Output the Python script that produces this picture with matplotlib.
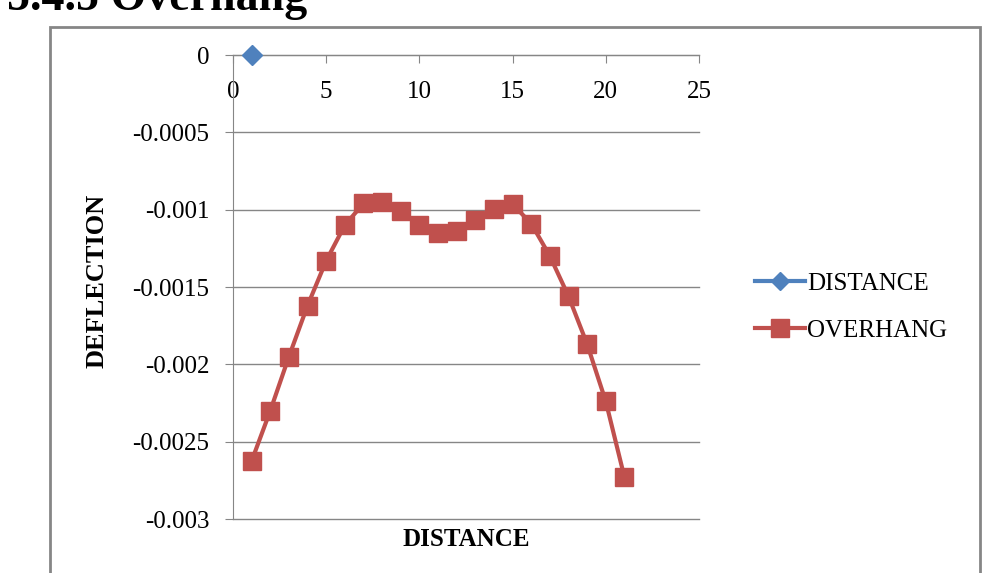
import numpy as np
import matplotlib.pyplot as plt
from matplotlib.patches import Rectangle

distance = [1]
distance_val = [0]

x = list(range(1, 22))
overhang = [-0.002625, -0.0023, -0.00195, -0.00162, -0.00133, -0.0011, -0.00096,
            -0.00095, -0.00101, -0.0011, -0.00115, -0.00114, -0.00107, -0.000995,
            -0.000965, -0.00109, -0.0013, -0.00156, -0.00187, -0.00224, -0.00273]

yticks = [0, -0.0005, -0.001, -0.0015, -0.002, -0.0025, -0.003]
ytick_labels = ['0', '-0.0005', '-0.001', '-0.0015', '-0.002', '-0.0025', '-0.003']
xticks = [0, 5, 10, 15, 20, 25]

plt.rcParams['font.family'] = ['Liberation Serif', 'DejaVu Serif']
grey = '#868686'

fig = plt.figure(figsize=(10.02, 5.73), dpi=100)

# outer chart frame, runs off the bottom of the picture
fig.patches.append(Rectangle((50/1002, -0.1), (980-50)/1002, 1.1 - 27/573,
                             transform=fig.transFigure, fill=False,
                             edgecolor=grey, linewidth=2))

fig.text(7/1002, 1 - 10/573, '5.4.5 Overhang', fontsize=33, fontweight='bold',
         va='baseline', ha='left')

ax = fig.add_axes([233/1002, 1 - 519/573, (699-233)/1002, (519-55)/573])

ax.plot(x, overhang, color='#C0504D', linewidth=3, marker='s', markersize=13,
        label='OVERHANG', zorder=3)
ax.plot(distance, distance_val, color='#4F81BD', linewidth=3, marker='D',
        markersize=10, label='DISTANCE', clip_on=False, zorder=4)

ax.set_xlim(0, 25)
ax.set_ylim(-0.003, 0)
ax.set_xticks(xticks)
ax.set_yticks(yticks)
ax.set_yticklabels(ytick_labels)

ax.spines['top'].set_visible(False)
ax.spines['right'].set_visible(False)
ax.spines['bottom'].set_position(('data', 0))
ax.spines['bottom'].set_color(grey)
ax.spines['left'].set_color(grey)

ax.tick_params(axis='x', direction='out', length=6, color=grey, labelsize=18, pad=13)
ax.tick_params(axis='y', direction='out', length=6, color=grey, labelsize=18, pad=11)
ax.yaxis.grid(True, color=grey, linewidth=1)
for g in ax.yaxis.get_gridlines():
    g.set_clip_on(False)
ax.set_axisbelow(True)

ax.text(0.5, -0.045, 'DISTANCE', transform=ax.transAxes, ha='center', va='center',
        fontsize=18, fontweight='bold')
fig.text(97/1002, 1 - 281/573, 'DEFLECTION', rotation=90, ha='center', va='center',
         fontsize=19, fontweight='bold')

h, l = ax.get_legend_handles_labels()
fig.legend(h[::-1], l[::-1], loc='center left', bbox_to_anchor=(732/1002, 1 - 307/573),
           frameon=False, fontsize=18, handlelength=2.0, handletextpad=0.1,
           labelspacing=1.0, markerscale=0.95)

fig.savefig('out.png', dpi=100)
